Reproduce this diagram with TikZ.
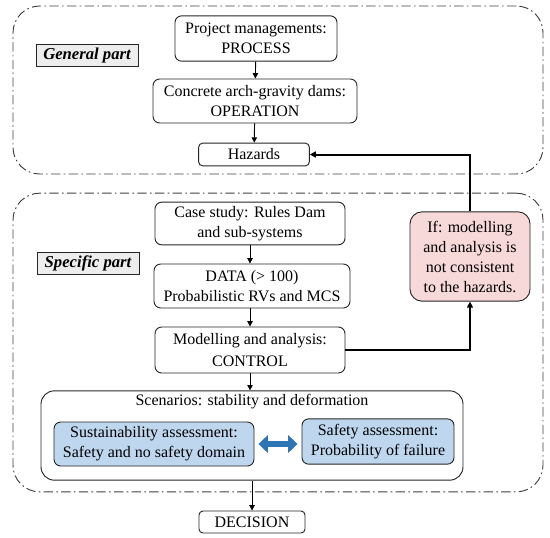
\documentclass[tikz,border=0pt]{standalone}
\usepackage{fontspec}
\setmainfont{Liberation Serif}
\usetikzlibrary{positioning,arrows.meta}
\definecolor{pinkfill}{RGB}{248,217,217}
\definecolor{bluefill}{RGB}{190,215,238}
\definecolor{bluearrow}{RGB}{46,117,182}
\tikzset{
  box/.style={draw=black!85, line width=0.7pt, rounded corners=5pt, fill=white,
    align=center, font=\fontsize{12}{15}\selectfont, inner sep=1pt},
  hazbox/.style={box, rounded corners=3pt},
  warn/.style={box, fill=pinkfill, rounded corners=9pt},
  assess/.style={box, fill=bluefill, rounded corners=5pt},
  panel/.style={draw=black!85, line width=0.7pt, rounded corners=10pt},
  zone/.style={draw=black!75, line width=0.7pt, rounded corners=20pt,
    dash pattern=on 7pt off 2.5pt on 1.2pt off 2.5pt},
  tag/.style={draw=black!85, line width=0.6pt, fill=black!7,
    font=\fontsize{12.5}{15}\selectfont\bfseries\itshape, inner sep=1pt},
  flow/.style={-{Triangle[length=4pt, width=4pt]}, line width=0.7pt},
  back/.style={-{Triangle[length=4.5pt, width=4.5pt]}, line width=1.5pt},
  twoway/.style={{Triangle[length=7pt, width=13pt]}-{Triangle[length=7pt, width=13pt]},
    line width=4.5pt, bluearrow, shorten >=3pt, shorten <=3pt},
}
\begin{document}
\begin{tikzpicture}[x=0.75pt, y=-0.75pt]
  \useasboundingbox (0,0) rectangle (550,537);
  % zones
  \node[zone, minimum width=397.5pt, minimum height=126pt] (general) at (278,90) {};
  \node[zone, minimum width=397.5pt, minimum height=224pt] (specific) at (278,342.5) {};
  \node[tag, minimum width=76.5pt, minimum height=17pt] (gentag) at (87,55.5) {General part};
  \node[tag, minimum width=76.5pt, minimum height=16pt] (spectag) at (88,263.5) {Specific part};
  % general part
  \node[box, minimum width=121.5pt, minimum height=34pt] (process) at (256,38.5)
    {Project managements:\\PROCESS};
  \node[box, minimum width=153pt, minimum height=33pt] (operation) at (255,101)
    {Concrete arch-gravity dams:\\OPERATION};
  \node[hazbox, minimum width=83pt, minimum height=17pt] (hazards) at (254,154.5) {Hazards};
  % specific part
  \node[box, minimum width=142.5pt, minimum height=32pt] (casestudy) at (250,223.5)
    {Case study: Rules Dam\\and sub-systems};
  \node[box, minimum width=147pt, minimum height=33pt] (data) at (252,286)
    {DATA (> 100)\\Probabilistic RVs and MCS};
  \node[box, minimum width=142.5pt, minimum height=34.5pt] (control) at (250,350)
    {Modelling and analysis:\\[2pt]CONTROL};
  \node[warn, minimum width=90pt, minimum height=67pt] (ifbox) at (470,256.5)
    {If: modelling\\and analysis is\\not consistent\\to the hazards.};
  \node[panel, minimum width=316.5pt, minimum height=67pt] (scenarios) at (252,435.5) {};
  \node[font=\fontsize{12}{15}\selectfont, inner sep=0pt] (scentitle) at (252,402)
    {Scenarios: stability and deformation};
  \node[assess, minimum width=150pt, minimum height=33pt] (sustain) at (154,444)
    {Sustainability assessment:\\Safety and no safety domain};
  \node[assess, minimum width=114pt, minimum height=34pt] (safety) at (378,441.5)
    {Safety assessment:\\Probability of failure};
  \node[hazbox, minimum width=79.5pt, minimum height=16.5pt] (decision) at (252,522) {DECISION};
  % arrows
  \draw[flow] (process) -- (operation);
  \draw[flow] (operation) -- (hazards);
  \draw[flow] (casestudy) -- (casestudy|-data.north);
  \draw[flow] (casestudy|-data.south) -- (control);
  \draw[flow] (control.south) -- (control.south|-scenarios.north);
  \draw[flow] (scenarios.south-|decision) -- (decision);
  \draw[back] (control.east) -| (ifbox.south);
  \draw[back] (ifbox.north) |- (hazards.east);
  \draw[twoway] (sustain.east) -- (sustain.east-|safety.west);
\end{tikzpicture}
\end{document}
